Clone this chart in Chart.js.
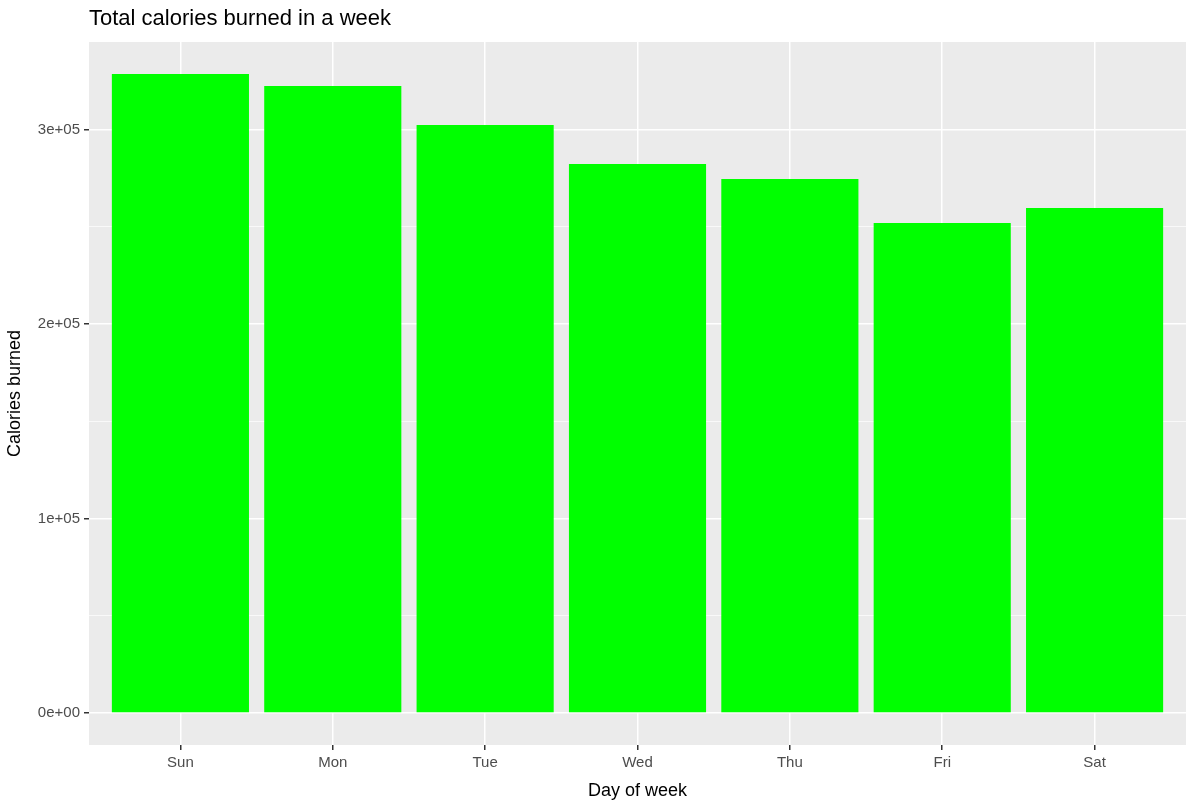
<!DOCTYPE html>
<html lang="en">
  <head>
    <meta charset="UTF-8" />
    <title>Total calories burned in a week</title>
    <script src="https://cdn.jsdelivr.net/npm/chart.js"></script>
    <style>
      body { margin: 0; background: #fff; font-family: Arial, "Liberation Sans", sans-serif; }
      #wrap { width: 1196px; height: 806px; position: relative; }
    </style>
  </head>
  <body>
    <div id="wrap"><canvas id="chart"></canvas></div>
    <script>
      const days = ["Sun", "Mon", "Tue", "Wed", "Thu", "Fri", "Sat"];
      const calories = [328500, 322400, 302300, 282300, 274600, 251900, 259600];
      const yTicks = [0, 100000, 200000, 300000];
      const yLabels = ["0e+00", "1e+05", "2e+05", "3e+05"];

      const font = { family: "Arial, 'Liberation Sans', sans-serif" };

      const titlePlugin = {
        id: "ggTitle",
        afterDraw(chart) {
          const ctx = chart.ctx;
          ctx.save();
          ctx.fillStyle = "#000";
          ctx.font = "22px Arial, 'Liberation Sans', sans-serif";
          ctx.textBaseline = "middle";
          ctx.fillText("Total calories burned in a week", chart.chartArea.left, 19);
          ctx.restore();
        },
      };

      const panelPlugin = {
        id: "panel",
        beforeDraw(chart) {
          const a = chart.chartArea;
          chart.ctx.save();
          chart.ctx.fillStyle = "#EBEBEB";
          chart.ctx.fillRect(a.left, a.top, a.right - a.left, a.bottom - a.top);
          chart.ctx.restore();
        },
      };

      new Chart(document.getElementById("chart"), {
        type: "bar",
        data: {
          datasets: [
            {
              data: days.map((d, i) => ({ x: i + 1, y: calories[i] })),
              backgroundColor: "#00FF00",
              categoryPercentage: 0.9,
              barPercentage: 1,
            },
          ],
        },
        options: {
          responsive: true,
          maintainAspectRatio: false,
          animation: false,
          layout: { padding: { top: 42, right: 10, left: 0, bottom: 0 } },
          plugins: { legend: { display: false }, tooltip: { enabled: false } },
          scales: {
            x: {
              type: "linear",
              min: 0.4,
              max: 7.6,
              offset: false,
              afterBuildTicks: (s) => { s.ticks = days.map((d, i) => ({ value: i + 1 })); },
              afterFit: (s) => { s.height = 61; },
              ticks: {
                callback: (v) => days[v - 1],
                color: "#4D4D4D",
                font: { ...font, size: 15 },
                padding: 4,
              },
              grid: { offset: false, color: "#FFFFFF", lineWidth: 1.5, tickColor: "#333333", tickLength: 5 },
              border: { display: false },
              title: { display: true, text: "Day of week", color: "#000", font: { ...font, size: 18 }, padding: { top: 2 } },
            },
            y: {
              min: -16450,
              max: 345000,
              afterBuildTicks: (s) => {
                s.ticks = [0, 50000, 100000, 150000, 200000, 250000, 300000].map((v) => ({ value: v }));
              },
              afterFit: (s) => { s.width = 89; },
              ticks: {
                callback: (v) => { const k = yTicks.indexOf(v); return k >= 0 ? yLabels[k] : ""; },
                color: "#4D4D4D",
                font: { ...font, size: 15 },
                padding: 4,
              },
              grid: {
                color: "#FFFFFF",
                lineWidth: (c) => (c.tick && c.tick.value % 100000 === 0 ? 1.5 : 0.7),
                tickColor: (c) => (c.tick && c.tick.value % 100000 === 0 ? "#333333" : "rgba(0,0,0,0)"),
                tickLength: 5,
              },
              border: { display: false },
              title: { display: true, text: "Calories burned", color: "#000", font: { ...font, size: 18 }, padding: { bottom: 2 } },
            },
          },
        },
        plugins: [panelPlugin, titlePlugin],
      });
    </script>
  </body>
</html>
